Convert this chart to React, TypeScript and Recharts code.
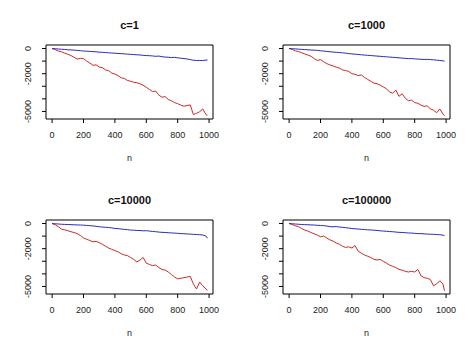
import React from "react";
import { LineChart, Line, XAxis, YAxis, ReferenceArea } from "recharts";

// n at which each path is sampled
const nValues = [
  0, 20, 40, 60, 80, 100, 120, 140, 160, 180,
  200, 220, 240, 260, 280, 300, 320, 340, 360, 380,
  400, 420, 440, 460, 480, 500, 520, 540, 560, 580,
  600, 620, 640, 660, 680, 700, 720, 740, 760, 780,
  800, 820, 840, 860, 880, 900, 920, 940, 960, 980,
  990,
];

const titles = ["c=1", "c=1000", "c=10000", "c=100000"];

const redC1 = [
  0, -90, -200, -260, -370, -450, -560, -700, -840, -780,
  -800, -1000, -1150, -1330, -1300, -1470, -1520, -1700, -1760, -1950,
  -2030, -2150, -2330, -2380, -2540, -2600, -2680, -2720, -2800, -2920,
  -3080, -3250, -3420, -3380, -3700, -3870, -3820, -4050, -4150, -4300,
  -4380, -4500, -4580, -4530, -4480, -5250, -5150, -5020, -4800, -5250,
  -5300,
];
const blueC1 = [
  0, -20, -40, -60, -70, -100, -110, -130, -150, -170,
  -200, -210, -230, -250, -260, -290, -300, -320, -340, -360,
  -370, -390, -410, -420, -450, -460, -480, -500, -510, -540,
  -560, -570, -590, -620, -600, -650, -680, -690, -720, -700,
  -740, -770, -800, -830, -880, -930, -950, -960, -950, -920,
  -910,
];

const redC1000 = [
  0, -80, -180, -250, -330, -430, -520, -620, -800, -950,
  -880, -1050, -1200, -1300, -1380, -1480, -1560, -1700, -1750, -1820,
  -2000, -2050, -2150, -2100, -2300, -2450, -2600, -2750, -2800, -2900,
  -3050, -3200, -3450, -3550, -3300, -3800, -3600, -3950, -4150, -4100,
  -4300, -4350, -4500, -4600, -4550, -4800, -4900, -5100, -4800, -5200,
  -5350,
];
const blueC1000 = [
  0, -15, -30, -50, -70, -90, -100, -120, -130, -150,
  -180, -200, -230, -260, -280, -300, -320, -340, -370, -400,
  -430, -450, -470, -500, -520, -540, -560, -580, -600, -620,
  -640, -660, -680, -700, -720, -740, -760, -780, -800, -800,
  -820, -840, -850, -870, -860, -880, -900, -920, -950, -980,
  -1010,
];

const redC10000 = [
  0, -100, -260, -450, -500, -570, -650, -720, -800, -950,
  -1150, -1250, -1350, -1450, -1420, -1520, -1650, -1800, -1950, -2050,
  -2150, -2250, -2400, -2500, -2550, -2700, -2850, -3050, -2900, -2700,
  -3150, -3250, -3350, -3300, -3500, -3650, -3700, -3850, -4050, -4250,
  -4400, -4350, -4300, -4250, -4200, -4800, -5200, -4650, -4950, -5200,
  -5300,
];
const blueC10000 = [
  0, -20, -40, -60, -70, -80, -90, -100, -110, -120,
  -130, -150, -170, -190, -220, -260, -280, -300, -320, -350,
  -390, -410, -440, -460, -490, -520, -530, -550, -560, -580,
  -570, -600, -630, -650, -680, -700, -710, -730, -750, -760,
  -780, -800, -810, -830, -840, -860, -870, -890, -910, -1000,
  -1170,
];

const redC100000 = [
  0, -80, -180, -260, -400, -520, -600, -720, -820, -920,
  -1050, -1000, -1150, -1300, -1400, -1550, -1650, -1800, -1900, -1850,
  -1950, -1750, -2200, -2350, -2500, -2600, -2700, -2850, -2900, -2850,
  -3000, -3150, -3300, -3400, -3500, -3650, -3700, -3800, -3850, -3800,
  -3850, -3650, -4150, -4300, -4350, -4450, -4950, -4800, -4550, -4800,
  -5350,
];
const blueC100000 = [
  0, -20, -40, -60, -80, -90, -100, -110, -120, -140,
  -160, -170, -200, -250, -260, -240, -280, -300, -330, -360,
  -400, -420, -440, -460, -480, -500, -510, -530, -550, -580,
  -600, -620, -640, -650, -680, -700, -710, -730, -750, -760,
  -780, -800, -800, -820, -840, -850, -860, -870, -890, -920,
  -960,
];

const xTicks = [0, 200, 400, 600, 800, 1000];
const yTicks = [0, -1000, -2000, -3000, -4000, -5000];
const yLabeled = [0, -2000, -5000];

const X_DOMAIN: [number, number] = [-39, 1025];
const Y_DOMAIN: [number, number] = [-5600, 280];

const RED = "#cc2a2a";
const BLUE = "#2a2ab8";
const FONT = "'Liberation Sans', Arial, sans-serif";

const panels = [
  { title: titles[0], red: redC1, blue: blueC1 },
  { title: titles[1], red: redC1000, blue: blueC1000 },
  { title: titles[2], red: redC10000, blue: blueC10000 },
  { title: titles[3], red: redC100000, blue: blueC100000 },
];

function YTick(props: any) {
  const { x, y, payload } = props;
  if (!yLabeled.includes(payload.value)) return <g />;
  const bx = x - 9;
  return (
    <text
      x={bx}
      y={y}
      transform={`rotate(-90 ${bx} ${y})`}
      textAnchor="middle"
      fontSize={9}
      fontFamily={FONT}
      fill="#222"
    >
      {String(payload.value)}
    </text>
  );
}

function Panel({ title, red, blue }: { title: string; red: number[]; blue: number[] }) {
  const data = nValues.map((n, i) => ({ n, red: red[i], blue: blue[i] }));
  return (
    <div style={{ position: "relative", width: 237, height: 175 }}>
      <div
        style={{
          position: "absolute",
          left: 46,
          width: 167,
          top: 19,
          lineHeight: "12px",
          textAlign: "center",
          fontFamily: FONT,
          fontWeight: "bold",
          fontSize: 11,
          color: "#111",
        }}
      >
        {title}
      </div>
      <LineChart
        width={237}
        height={175}
        data={data}
        margin={{ top: 45, right: 24, left: 0, bottom: 0 }}
      >
        <XAxis
          dataKey="n"
          type="number"
          domain={X_DOMAIN}
          ticks={xTicks}
          interval={0}
          allowDataOverflow
          axisLine={false}
          tickSize={4}
          tickMargin={9}
          height={56}
          tick={{ fontSize: 9, fontFamily: FONT, fill: "#222" }}
          tickLine={{ stroke: "#000" }}
          label={{
            value: "n",
            position: "insideBottom",
            offset: 14,
            fontSize: 9,
            fontFamily: FONT,
            fill: "#222",
          }}
        />
        <YAxis
          type="number"
          domain={Y_DOMAIN}
          ticks={yTicks}
          interval={0}
          allowDataOverflow
          width={46}
          axisLine={false}
          tickSize={4}
          tickLine={{ stroke: "#000" }}
          tick={<YTick />}
        />
        <Line
          dataKey="red"
          stroke={RED}
          strokeWidth={1}
          dot={false}
          isAnimationActive={false}
        />
        <Line
          dataKey="blue"
          stroke={BLUE}
          strokeWidth={1}
          dot={false}
          isAnimationActive={false}
        />
        <ReferenceArea
          x1={X_DOMAIN[0]}
          x2={X_DOMAIN[1]}
          y1={Y_DOMAIN[0]}
          y2={Y_DOMAIN[1]}
          fill="none"
          fillOpacity={0}
          stroke="#000"
          strokeWidth={1}
          ifOverflow="visible"
        />
      </LineChart>
    </div>
  );
}

export default function App() {
  return (
    <div
      style={{
        position: "absolute",
        left: 0,
        top: 0,
        width: 474,
        height: 351,
        background: "#fff",
        display: "grid",
        gridTemplateColumns: "237px 237px",
        gridTemplateRows: "175px 176px",
      }}
    >
      {panels.map((p) => (
        <Panel key={p.title} title={p.title} red={p.red} blue={p.blue} />
      ))}
    </div>
  );
}
